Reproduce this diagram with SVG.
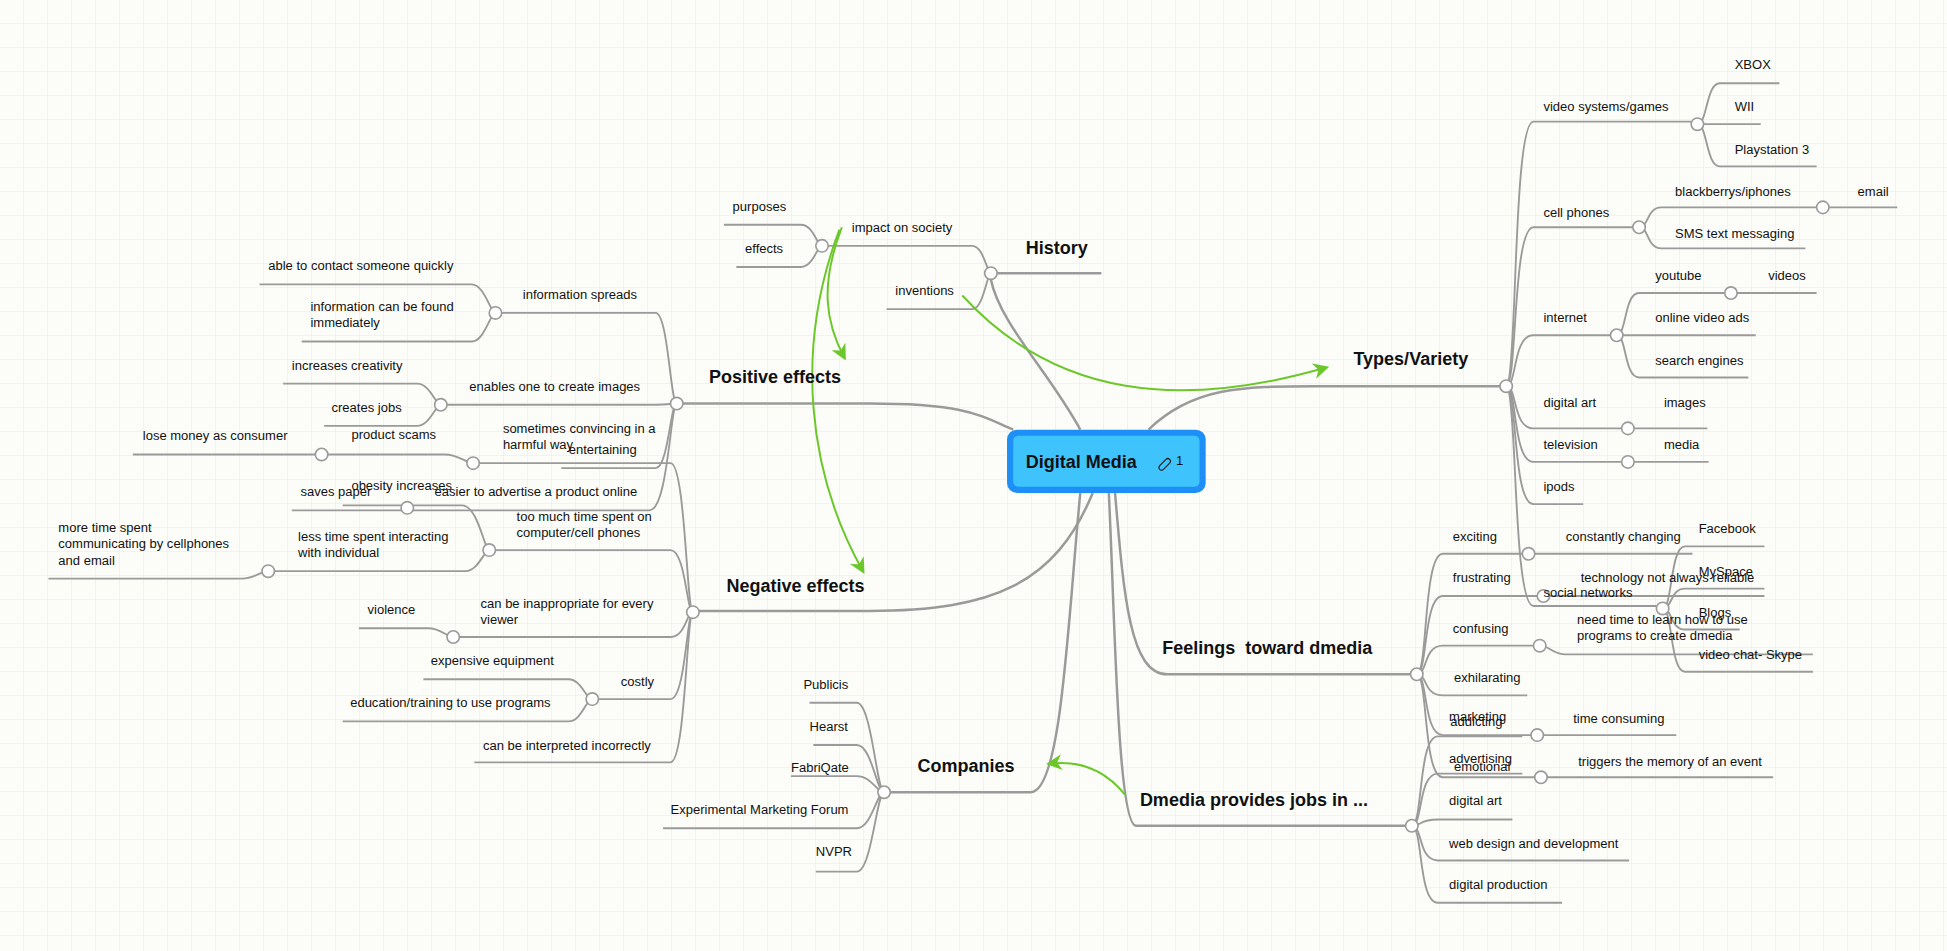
<svg xmlns="http://www.w3.org/2000/svg" width="1947" height="951" viewBox="0 0 1947 951">
<defs>
<pattern id="grid" width="24" height="24" patternUnits="userSpaceOnUse"><path d="M24 0V24M0 24H24" fill="none" stroke="#e6ecd8" stroke-width="1"/></pattern>
<marker id="ga" viewBox="0 0 10 10" refX="8" refY="5" markerWidth="8" markerHeight="8" orient="auto"><path d="M0 0L10 5L0 10L3 5Z" fill="#6cc72b"/></marker>
<style>
.l{fill:none;stroke:#9a9a9a;stroke-width:1.5}
.m{fill:none;stroke:#9a9a9a;stroke-width:2}
.c{fill:#fff;stroke:#9a9a9a;stroke-width:1.3}
.g{fill:none;stroke:#6cc72b;stroke-width:1.6}
text{font-family:"Liberation Sans",Arial,sans-serif;font-size:10.5px;fill:#111;dominant-baseline:central}
.b{font-size:14.5px;font-weight:bold}
</style>
</defs>
<rect width="1947" height="951" fill="#fcfdf8"/>
<rect width="1947" height="951" fill="url(#grid)"/>
<g transform="scale(1.2417)">
<g id="connectors">
<path class="m" d="M870,346 C845,300 805,260 798,225"/><path class="m" d="M803,220H887"/>
<path class="m" d="M925,346 C960,312 1000,311 1060,311 H1208"/>
<path class="m" d="M816,346 C790,335 780,325 700,325 H550"/>
<path class="m" d="M880,397 C850,470 800,492 700,492 H563"/>
<path class="m" d="M870,397 C860,500 855,638 830,638 H717"/>
<path class="m" d="M898,397 C905,480 910,543 940,543 H1136"/>
<path class="m" d="M893,397 C898,500 900,665 915,665 H1132"/>
<path class="l" d="M662,198H783C792,198 795,220 798,220"/>
<path class="l" d="M714,249H783C792,249 795,220 798,220"/>
<path class="l" d="M583,181H645C655,181 658,198 662,198"/>
<path class="l" d="M593,215H645C655,215 658,198 662,198"/>
<path class="l" d="M404,252H528C538,252 540,325 545,325"/>
<path class="l" d="M360,326H528C538,326 540,325 545,325"/>
<path class="l" d="M452,377H528C538,377 540,325 545,325"/>
<path class="l" d="M235,411H523C538,411 540,325 545,325"/>
<path class="l" d="M386,373H540C552,373 553,493 558,493"/>
<path class="l" d="M399,443H540C552,443 553,493 558,493"/>
<path class="l" d="M370,513H540C552,513 553,493 558,493"/>
<path class="l" d="M482,563H540C552,563 553,493 558,493"/>
<path class="l" d="M382,614H540C552,614 553,493 558,493"/>
<path class="l" d="M209,229H380C390,229 395,252 399,252"/>
<path class="l" d="M243,275H380C390,275 395,252 399,252"/>
<path class="l" d="M228,309H336C346,309 351,326 355,326"/>
<path class="l" d="M261,343H336C346,343 351,326 355,326"/>
<path class="l" d="M264,366H358C370,366 375,373 381,373"/>
<path class="l" d="M107,366H254"/>
<path class="l" d="M221,460H375C385,460 390,443 394,443"/>
<path class="l" d="M39,466H195C205,466 210,460 216,460"/>
<path class="l" d="M276,407H372C385,407 390,443 394,443"/>
<path class="l" d="M289,506H345C355,506 360,513 365,513"/>
<path class="l" d="M341,547H458C468,547 472,563 477,563"/>
<path class="l" d="M276,581H458C468,581 472,563 477,563"/>
<path class="l" d="M652,566H690C702,566 706,638 712,638"/>
<path class="l" d="M655,600H690C702,600 706,638 712,638"/>
<path class="l" d="M637,625H690C702,625 706,638 712,638"/>
<path class="l" d="M534,667H690C702,667 706,638 712,638"/>
<path class="l" d="M657,702H690C702,702 706,638 712,638"/>
<path class="l" d="M1213,311C1222,311 1218,98 1235,98H1362"/>
<path class="l" d="M1213,311C1222,311 1218,183 1235,183H1315"/>
<path class="l" d="M1213,311C1222,311 1218,270 1235,270H1297"/>
<path class="l" d="M1213,311C1222,311 1218,345 1235,345H1375"/>
<path class="l" d="M1213,311C1222,311 1218,372 1235,372H1376"/>
<path class="l" d="M1213,311C1222,311 1218,406 1235,406H1275"/>
<path class="l" d="M1213,311C1222,311 1218,488 1235,488H1334"/>
<path class="l" d="M1367,100C1375,100 1374,67 1385,67H1433"/>
<path class="l" d="M1372,100H1418"/>
<path class="l" d="M1367,100C1375,100 1374,134 1385,134H1463"/>
<path class="l" d="M1320,183C1328,183 1326,167 1338,167H1528"/>
<path class="l" d="M1320,183C1328,183 1326,200 1338,200H1454"/>
<path class="l" d="M1302,270C1310,270 1308,236 1320,236H1463"/>
<path class="l" d="M1307,270H1414"/>
<path class="l" d="M1302,270C1310,270 1308,304 1320,304H1408"/>
<path class="l" d="M1339,490C1347,490 1345,440 1357,440H1421"/>
<path class="l" d="M1339,490C1347,490 1345,474 1357,474H1421"/>
<path class="l" d="M1339,490C1347,490 1345,507 1357,507H1401"/>
<path class="l" d="M1339,490C1347,490 1345,541 1357,541H1460"/>
<path class="l" d="M1141,543C1150,543 1146,446 1162,446H1363"/>
<path class="l" d="M1141,543C1150,543 1146,480 1162,480H1421"/>
<path class="l" d="M1141,543C1150,543 1146,520 1162,520H1235"/>
<path class="l" d="M1240,520C1248,520 1250,527 1261,527H1460"/>
<path class="l" d="M1141,543C1150,543 1146,560 1162,560H1230"/>
<path class="l" d="M1141,543C1150,543 1146,592 1162,592H1350"/>
<path class="l" d="M1141,543C1150,543 1146,626 1162,626H1428"/>
<path class="l" d="M1137,665C1146,665 1142,593 1158,593H1226"/>
<path class="l" d="M1137,665C1146,665 1142,623 1158,623H1226"/>
<path class="l" d="M1137,665C1146,665 1142,660 1158,660H1218"/>
<path class="l" d="M1137,665C1146,665 1142,693 1158,693H1312"/>
<path class="l" d="M1137,665C1146,665 1142,727 1158,727H1258"/>
<path class="g" marker-end="url(#ga)" d="M678,183 C660,230 665,260 680,288"/>
<path class="g" marker-end="url(#ga)" d="M676,185 C640,280 650,380 695,460"/>
<path class="g" marker-end="url(#ga)" d="M775,238 C850,320 950,330 1068,296"/>
<path class="g" marker-end="url(#ga)" d="M906,640 C890,620 870,612 845,615"/>
</g>
<g id="circles">
<circle class="c" cx="798" cy="220" r="5"/><circle class="c" cx="662" cy="198" r="5"/>
<circle class="c" cx="545" cy="325" r="5"/><circle class="c" cx="399" cy="252" r="5"/><circle class="c" cx="355" cy="326" r="5"/>
<circle class="c" cx="381" cy="373" r="5"/><circle class="c" cx="259" cy="366" r="5"/>
<circle class="c" cx="558" cy="493" r="5"/><circle class="c" cx="394" cy="443" r="5"/><circle class="c" cx="216" cy="460" r="5"/>
<circle class="c" cx="328" cy="409" r="5"/><circle class="c" cx="365" cy="513" r="5"/><circle class="c" cx="477" cy="563" r="5"/>
<circle class="c" cx="712" cy="638" r="5"/>
<circle class="c" cx="1213" cy="311" r="5"/><circle class="c" cx="1367" cy="100" r="5"/><circle class="c" cx="1320" cy="183" r="5"/>
<circle class="c" cx="1468" cy="167" r="5"/><circle class="c" cx="1302" cy="270" r="5"/><circle class="c" cx="1394" cy="236" r="5"/>
<circle class="c" cx="1311" cy="345" r="5"/><circle class="c" cx="1311" cy="372" r="5"/><circle class="c" cx="1339" cy="490" r="5"/>
<circle class="c" cx="1141" cy="543" r="5"/><circle class="c" cx="1231" cy="446" r="5"/><circle class="c" cx="1243" cy="480" r="5"/>
<circle class="c" cx="1240" cy="520" r="5"/><circle class="c" cx="1238" cy="592" r="5"/><circle class="c" cx="1241" cy="626" r="5"/>
<circle class="c" cx="1137" cy="665" r="5"/>
</g>
<g id="node-digital-media">
<rect x="811" y="346" width="160" height="51" rx="8" fill="#1e8ff7"/>
<rect x="816" y="351" width="150" height="41" rx="4" fill="#3fc3fd"/>
<text class="b" x="826" y="372">Digital Media</text>
<path d="M934,375 l5,-5 a2,2 0 0 1 3,3 l-5,5 a2,2 0 0 1 -3,-3z" fill="none" stroke="#222" stroke-width="1"/>
<text x="947" y="371">1</text>
</g>
<g id="node-history"><text class="b" x="826" y="200">History</text></g>
<g id="node-impact"><text x="686" y="183">impact on society</text></g>
<g id="node-purposes"><text x="590" y="166">purposes</text></g>
<g id="node-effects"><text x="600" y="200">effects</text></g>
<g id="node-inventions"><text x="721" y="234">inventions</text></g>
<g id="node-types"><text class="b" x="1090" y="289">Types/Variety</text></g>
<g id="node-video"><text x="1243" y="86">video systems/games</text></g>
<g id="node-xbox"><text x="1397" y="52">XBOX</text></g>
<g id="node-wii"><text x="1397" y="86">WII</text></g>
<g id="node-ps3"><text x="1397" y="120">Playstation 3</text></g>
<g id="node-cell"><text x="1243" y="171">cell phones</text></g>
<g id="node-bb"><text x="1349" y="154">blackberrys/iphones</text></g>
<g id="node-email"><text x="1496" y="154">email</text></g>
<g id="node-sms"><text x="1349" y="188">SMS text messaging</text></g>
<g id="node-internet"><text x="1243" y="256">internet</text></g>
<g id="node-youtube"><text x="1333" y="222">youtube</text></g>
<g id="node-videos"><text x="1424" y="222">videos</text></g>
<g id="node-ads"><text x="1333" y="256">online video ads</text></g>
<g id="node-search"><text x="1333" y="290">search engines</text></g>
<g id="node-dart"><text x="1243" y="324">digital art</text></g>
<g id="node-images"><text x="1340" y="324">images</text></g>
<g id="node-tv"><text x="1243" y="358">television</text></g>
<g id="node-media"><text x="1340" y="358">media</text></g>
<g id="node-ipods"><text x="1243" y="392">ipods</text></g>
<g id="node-social"><text x="1243" y="477">social networks</text></g>
<g id="node-fb"><text x="1368" y="426">Facebook</text></g>
<g id="node-myspace"><text x="1368" y="460">MySpace</text></g>
<g id="node-blogs"><text x="1368" y="493">Blogs</text></g>
<g id="node-skype"><text x="1368" y="527">video chat- Skype</text></g>
<g id="node-feelings"><text class="b" x="936" y="522" xml:space="preserve">Feelings  toward dmedia</text></g>
<g id="node-exciting"><text x="1170" y="432">exciting</text></g>
<g id="node-changing"><text x="1261" y="432">constantly changing</text></g>
<g id="node-frustrating"><text x="1170" y="465">frustrating</text></g>
<g id="node-reliable"><text x="1273" y="465">technology not always reliable</text></g>
<g id="node-confusing"><text x="1170" y="506">confusing</text></g>
<g id="node-needtime"><text x="1270" y="499">need time to learn how to use</text><text x="1270" y="512">programs to create dmedia</text></g>
<g id="node-exhil"><text x="1171" y="546">exhilarating</text></g>
<g id="node-addicting"><text x="1168" y="581">addicting</text></g>
<g id="node-timecons"><text x="1267" y="579">time consuming</text></g>
<g id="node-emotional"><text x="1171" y="617">emotional</text></g>
<g id="node-triggers"><text x="1271" y="613">triggers the memory of an event</text></g>
<g id="node-dmedia"><text class="b" x="918" y="644">Dmedia provides jobs in ...</text></g>
<g id="node-marketing"><text x="1167" y="577">marketing</text></g>
<g id="node-advertising"><text x="1167" y="611">advertising</text></g>
<g id="node-jdart"><text x="1167" y="645">digital art</text></g>
<g id="node-web"><text x="1167" y="679">web design and development</text></g>
<g id="node-prod"><text x="1167" y="712">digital production</text></g>
<g id="node-companies"><text class="b" x="739" y="617">Companies</text></g>
<g id="node-publicis"><text x="647" y="551">Publicis</text></g>
<g id="node-hearst"><text x="652" y="585">Hearst</text></g>
<g id="node-fabri"><text x="637" y="618">FabriQate</text></g>
<g id="node-emf"><text x="540" y="652">Experimental Marketing Forum</text></g>
<g id="node-nvpr"><text x="657" y="686">NVPR</text></g>
<g id="node-positive"><text class="b" x="571" y="304">Positive effects</text></g>
<g id="node-infospreads"><text x="421" y="237">information spreads</text></g>
<g id="node-contact"><text x="216" y="214">able to contact someone quickly</text></g>
<g id="node-found"><text x="250" y="247">information can be found</text><text x="250" y="260">immediately</text></g>
<g id="node-enables"><text x="378" y="311">enables one to create images</text></g>
<g id="node-creativity"><text x="235" y="294">increases creativity</text></g>
<g id="node-jobs"><text x="267" y="328">creates jobs</text></g>
<g id="node-entertaining"><text x="458" y="362">entertaining</text></g>
<g id="node-easier"><text x="350" y="396">easier to advertise a product online</text></g>
<g id="node-savespaper"><text x="242" y="396">saves paper</text></g>
<g id="node-negative"><text class="b" x="585" y="472">Negative effects</text></g>
<g id="node-convincing"><text x="405" y="345">sometimes convincing in a</text><text x="405" y="358">harmful way</text></g>
<g id="node-scams"><text x="283" y="350">product scams</text></g>
<g id="node-lose"><text x="115" y="351">lose money as consumer</text></g>
<g id="node-obesity"><text x="283" y="391">obesity increases</text></g>
<g id="node-toomuch"><text x="416" y="416">too much time spent on</text><text x="416" y="429">computer/cell phones</text></g>
<g id="node-lesstime"><text x="240" y="432">less time spent interacting</text><text x="240" y="445">with individual</text></g>
<g id="node-moretime"><text x="47" y="425">more time spent</text><text x="47" y="438">communicating by cellphones</text><text x="47" y="451">and email</text></g>
<g id="node-inappropriate"><text x="387" y="486">can be inappropriate for every</text><text x="387" y="499">viewer</text></g>
<g id="node-violence"><text x="296" y="491">violence</text></g>
<g id="node-costly"><text x="500" y="549">costly</text></g>
<g id="node-expensive"><text x="347" y="532">expensive equipment</text></g>
<g id="node-education"><text x="282" y="566">education/training to use programs</text></g>
<g id="node-interpreted"><text x="389" y="600">can be interpreted incorrectly</text></g>
</g>
</svg>
